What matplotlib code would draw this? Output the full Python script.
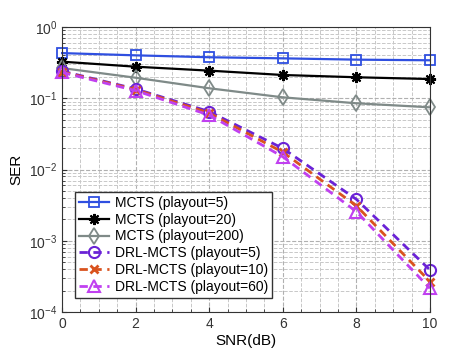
import matplotlib
matplotlib.use("Agg")
import matplotlib.pyplot as plt
from matplotlib.ticker import LogLocator, MultipleLocator, NullFormatter

plt.rcParams['font.family'] = ['Liberation Sans', 'DejaVu Sans']

snr = [0, 2, 4, 6, 8, 10]
mcts5 = [0.43, 0.40, 0.376, 0.363, 0.348, 0.341]
mcts20 = [0.326, 0.277, 0.244, 0.212, 0.197, 0.186]
mcts200 = [0.265, 0.194, 0.138, 0.103, 0.085, 0.0746]
drl5 = [0.24, 0.135, 0.065, 0.0198, 0.00382, 0.00039]
drl10 = [0.235, 0.132, 0.062, 0.0175, 0.0031, 0.000268]
drl60 = [0.23, 0.128, 0.058, 0.0151, 0.00257, 0.000215]

labels = ['MCTS (playout=5)', 'MCTS (playout=20)', 'MCTS (playout=200)',
          'DRL-MCTS (playout=5)', 'DRL-MCTS (playout=10)', 'DRL-MCTS (playout=60)']

fig = plt.figure(figsize=(4.74, 3.55), dpi=100)
ax = fig.add_axes([0.131, 0.121, 0.776, 0.803])

kw = dict(clip_on=False)
ax.semilogy(snr, mcts5, '-', color='#2f4fe0', lw=1.6, marker='s', ms=7, mfc='none', mew=1.3, label=labels[0], **kw)
ax.semilogy(snr, mcts20, '-', color='black', lw=1.6, marker=(8, 2, 0), ms=8, mew=1.5, label=labels[1], **kw)
ax.semilogy(snr, mcts200, '-', color='#7f8a88', lw=1.6, marker='d', ms=8, mfc='none', mew=1.3, label=labels[2], **kw)
ax.semilogy(snr, drl5, '--', color='#6a22d6', lw=2, marker='o', ms=8, mfc='none', mew=1.5, label=labels[3], dashes=(3, 2), **kw)
ax.semilogy(snr, drl10, '--', color='#d9531e', lw=2, marker='x', ms=6, mew=2, label=labels[4], dashes=(3, 2), **kw)
ax.semilogy(snr, drl60, '--', color='#c040f0', lw=2, marker='^', ms=9, mfc='none', mew=1.5, label=labels[5], dashes=(3, 2), **kw)

ax.set_xlim(0, 10)
ax.set_ylim(1e-4, 1)
ax.xaxis.set_major_locator(MultipleLocator(2))
ax.xaxis.set_minor_locator(MultipleLocator(0.5))
ax.yaxis.set_major_locator(LogLocator(base=10, numticks=10))
ax.yaxis.set_minor_locator(LogLocator(base=10, subs=range(2, 10), numticks=20))
ax.yaxis.set_minor_formatter(NullFormatter())
ax.grid(True, which='major', ls='--', color='#b0b0b0', lw=0.8)
ax.grid(True, which='minor', ls='--', color='#c8c8c8', lw=0.7)
ax.tick_params(which='both', direction='in', labelsize=10, colors='#333333')
ax.tick_params(which='minor', length=2)
for s in ax.spines.values():
    s.set_color('#333333')

ax.set_xlabel('SNR(dB)', fontsize=11, labelpad=2)
ax.set_ylabel('SER', fontsize=11)

leg = ax.legend(loc='lower left', fontsize=10, handlelength=2.2, labelspacing=0.2,
                borderpad=0.3, handletextpad=0.4, fancybox=False, framealpha=1,
                edgecolor='#333333', bbox_to_anchor=(0.015, 0.025))

fig.savefig('out.png', dpi=100)
